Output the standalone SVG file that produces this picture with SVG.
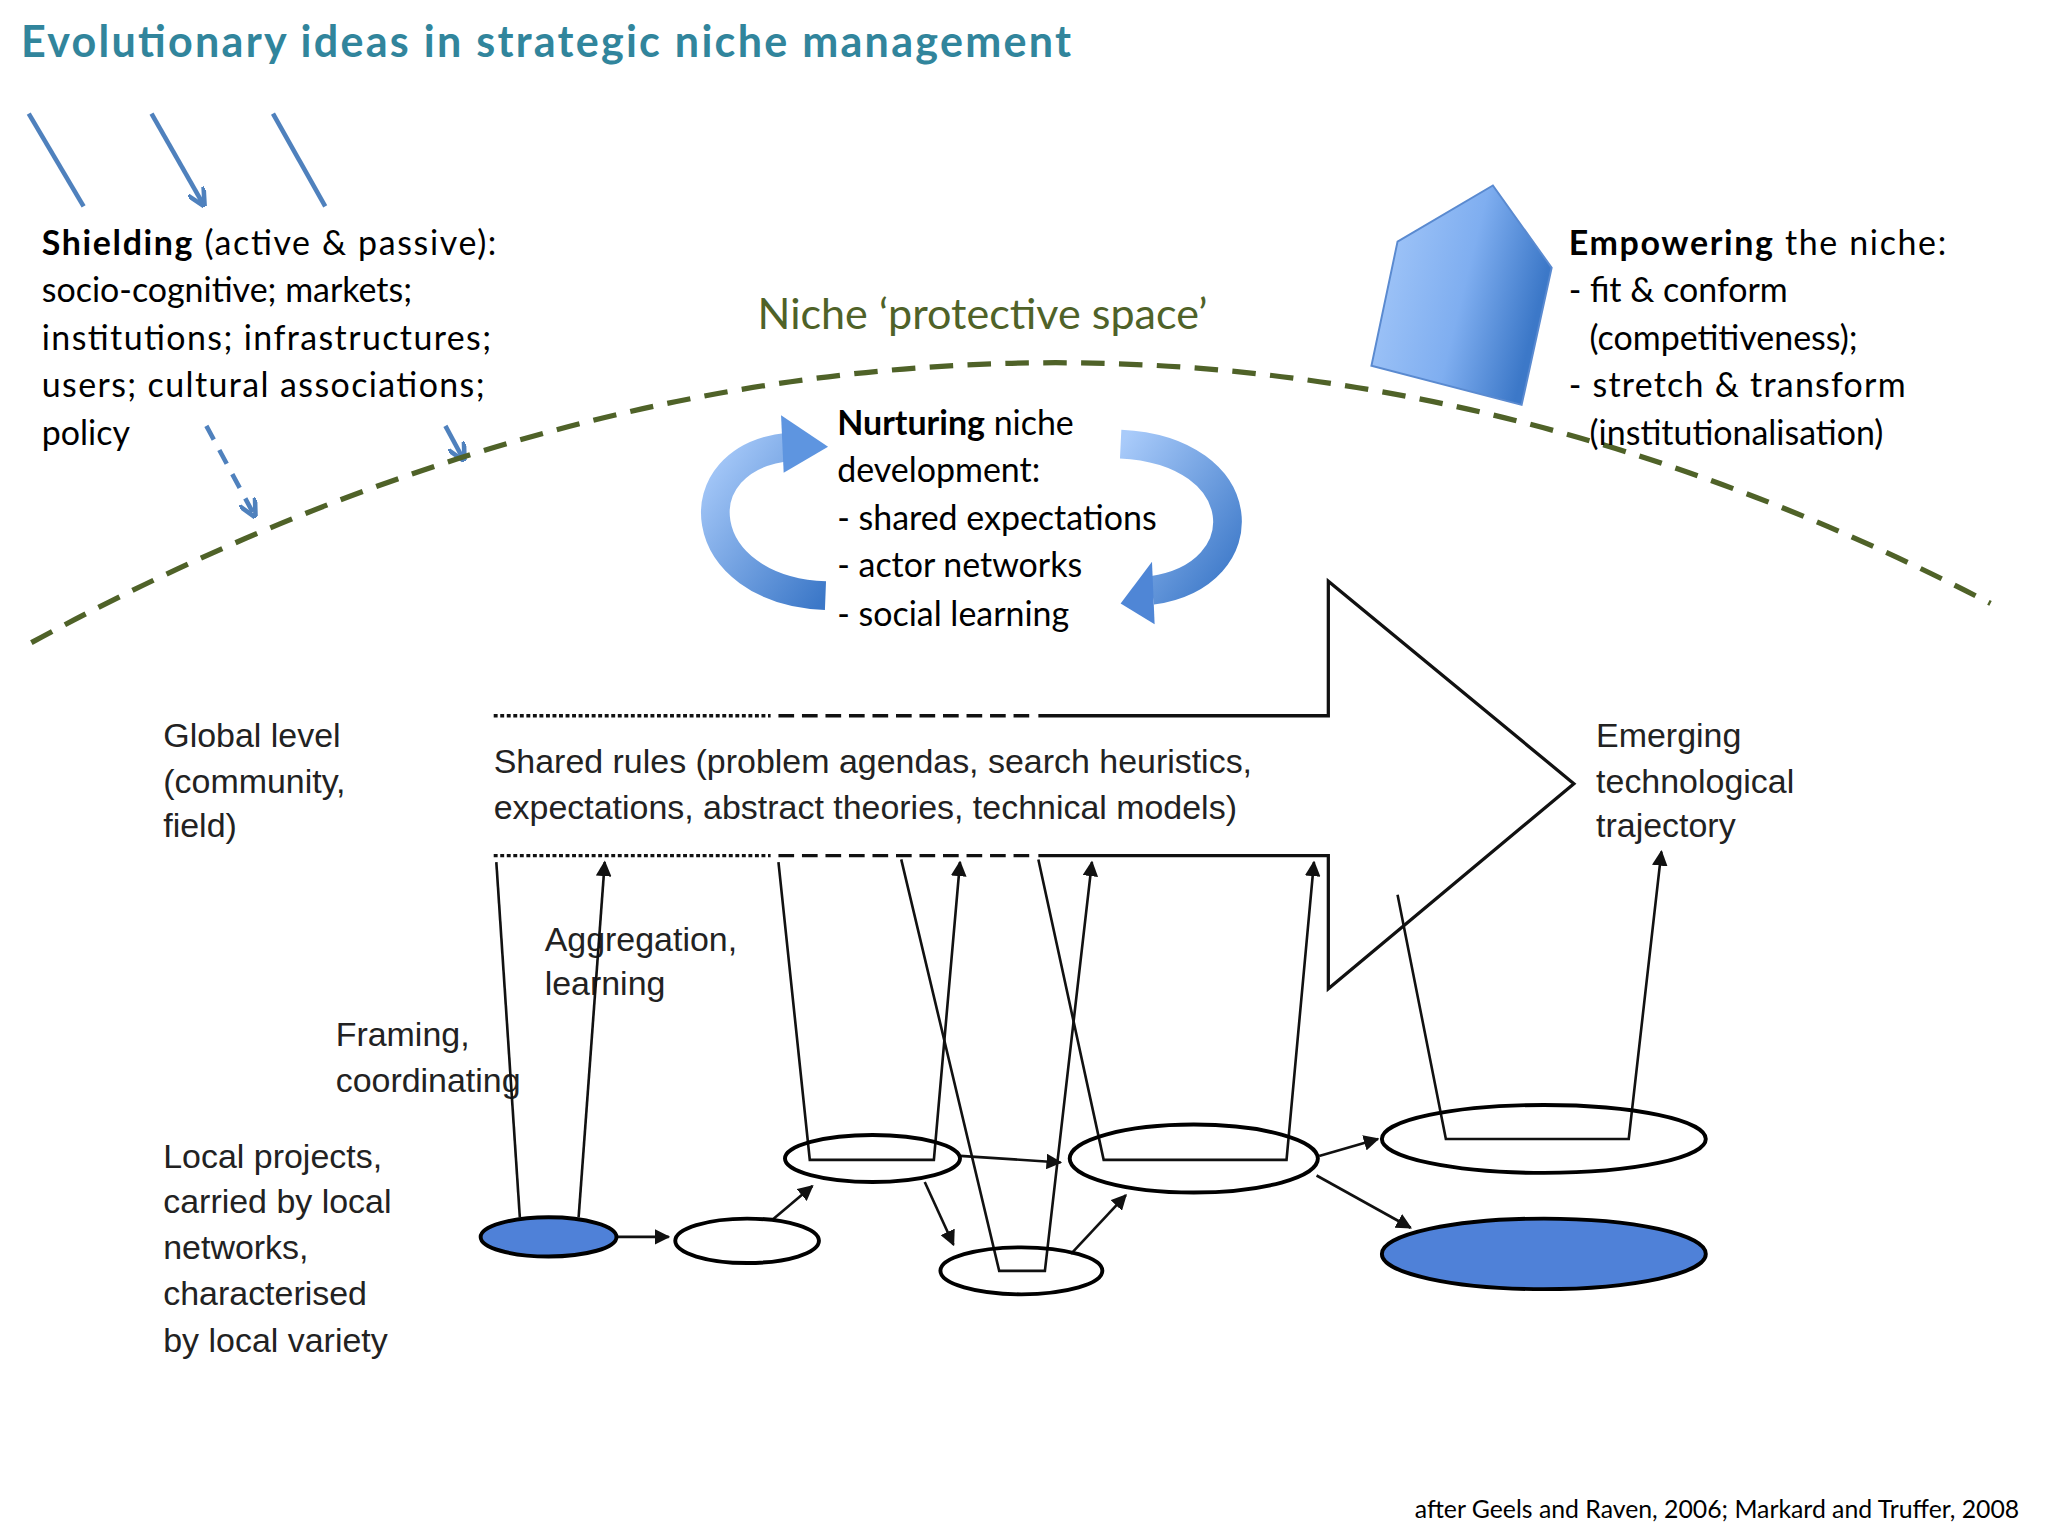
<svg xmlns="http://www.w3.org/2000/svg" width="2048" height="1536" viewBox="0 0 2048 1536">
<defs>
<style>
.t{font-family:Lato,"Open Sans",sans-serif;font-size:26px;fill:#000}
.h{font-family:"Liberation Sans",Arial,sans-serif;font-size:26px;fill:#222}
.ln{stroke:#111;stroke-width:2;fill:none}
.bl{stroke:#4F81BD;stroke-width:3.5;fill:none}
.ell{fill:#fff;stroke:#000;stroke-width:3}
.ef{fill:#4F81D8;stroke:#000;stroke-width:3}
</style>
<marker id="ah" viewBox="0 0 10 10" refX="9" refY="5" markerWidth="6" markerHeight="6" orient="auto"><path d="M0,0L10,5L0,10z" fill="#111"/></marker>
<marker id="ab" viewBox="0 0 10 10" refX="9" refY="5" markerWidth="4" markerHeight="4" orient="auto"><path d="M0,0L10,5L0,10" fill="none" stroke="#4F81BD" stroke-width="2.5"/></marker>
<linearGradient id="pg" x1="0" y1="0" x2="1" y2="0.3"><stop offset="0" stop-color="#A9CBFA"/><stop offset="0.6" stop-color="#7FAEF0"/><stop offset="1" stop-color="#3C78C8"/></linearGradient>
<linearGradient id="cg" x1="0" y1="0" x2="1" y2="1"><stop offset="0" stop-color="#A9CBFA"/><stop offset="1" stop-color="#3C78C8"/></linearGradient>
</defs>
<rect width="2048" height="1536" fill="#fff"/>
<g transform="scale(1.30612)">
<g id="title"><text x="16" y="44" font-family="Lato,'Open Sans',sans-serif" font-weight="bold" font-size="33" fill="#31859C" textLength="804">Evolutionary ideas in strategic niche management</text></g>
<g id="pressure">
<line class="bl" x1="22" y1="87" x2="64" y2="158"/>
<line class="bl" x1="116" y1="87" x2="156" y2="157" marker-end="url(#ab)"/>
<line class="bl" x1="209" y1="87" x2="249" y2="158"/>
</g>
<g id="shielding">
<text class="t" x="32" y="195" textLength="348"><tspan font-weight="bold">Shielding</tspan> (active &amp; passive):</text>
<text class="t" x="32" y="231">socio-cognitive; markets;</text>
<text class="t" x="32" y="268" textLength="344">institutions; infrastructures;</text>
<text class="t" x="32" y="304" textLength="339">users; cultural associations;</text>
<text class="t" x="32" y="341">policy</text>
<line class="bl" x1="158" y1="326" x2="195" y2="395" stroke-dasharray="12 9" marker-end="url(#ab)"/>
<line class="bl" x1="341" y1="326" x2="355" y2="352" marker-end="url(#ab)"/>
</g>
<g id="niche">
<path d="M24,492 Q786,79 1524,462" fill="none" stroke="#4F6228" stroke-width="4" stroke-dasharray="18 11"/>
<text x="580" y="252" font-family="Lato,'Open Sans',sans-serif" font-size="33" fill="#4F6228">Niche ‘protective space’</text>
</g>
<g id="empowering">
<polygon points="1070,185 1143,142 1188,205 1165,310 1050,280" fill="url(#pg)" stroke="#5A8AD0" stroke-width="1.5"/>
<text class="t" x="1201" y="195" textLength="289"><tspan font-weight="bold">Empowering</tspan> the niche:</text>
<text class="t" x="1201" y="231">- fit &amp; conform</text>
<text class="t" x="1217" y="268">(competitiveness);</text>
<text class="t" x="1201" y="304" textLength="258">- stretch &amp; transform</text>
<text class="t" x="1217" y="341">(institutionalisation)</text>
</g>
<g id="nurturing">
<path d="M632,456 C530,452 520,350 605,342" fill="none" stroke="url(#cg)" stroke-width="22"/>
<polygon points="598,318 634,342 600,362" fill="#5E95E0"/>
<path d="M858,340 C960,345 965,440 882,452" fill="none" stroke="url(#cg)" stroke-width="22"/>
<polygon points="882,430 858,462 884,478" fill="#4F86D6"/>
<text class="t" x="641" y="333"><tspan font-weight="bold">Nurturing</tspan> niche</text>
<text class="t" x="641" y="369">development:</text>
<text class="t" x="641" y="406">- shared expectations</text>
<text class="t" x="641" y="442">- actor networks</text>
<text class="t" x="641" y="479">- social learning</text>
</g>
<g id="bigarrow">
<path d="M795,548 L1017,548 L1017,445 L1205,600 L1017,757 L1017,655 L795,655" fill="none" stroke="#111" stroke-width="2.5"/>
<line x1="378" y1="548" x2="590" y2="548" stroke="#111" stroke-width="2.5" stroke-dasharray="3 2"/>
<line x1="596" y1="548" x2="790" y2="548" stroke="#111" stroke-width="2.5" stroke-dasharray="12 6"/>
<line x1="378" y1="655" x2="590" y2="655" stroke="#111" stroke-width="2.5" stroke-dasharray="3 2"/>
<line x1="596" y1="655" x2="790" y2="655" stroke="#111" stroke-width="2.5" stroke-dasharray="12 6"/>
<text class="h" x="378" y="592">Shared rules (problem agendas, search heuristics,</text>
<text class="h" x="378" y="627">expectations, abstract theories, technical models)</text>
</g>
<g id="labels">
<text class="h" x="125" y="572">Global level</text>
<text class="h" x="125" y="607">(community,</text>
<text class="h" x="125" y="641">field)</text>
<text class="h" x="1222" y="572">Emerging</text>
<text class="h" x="1222" y="607">technological</text>
<text class="h" x="1222" y="641">trajectory</text>
<text class="h" x="417" y="728">Aggregation,</text>
<text class="h" x="417" y="762">learning</text>
<text class="h" x="257" y="801">Framing,</text>
<text class="h" x="257" y="836">coordinating</text>
<text class="h" x="125" y="894">Local projects,</text>
<text class="h" x="125" y="929">carried by local</text>
<text class="h" x="125" y="964">networks,</text>
<text class="h" x="125" y="999">characterised</text>
<text class="h" x="125" y="1035">by local variety</text>
</g>
<g id="connectors">
<line class="ln" x1="380" y1="660" x2="398" y2="932"/>
<line class="ln" x1="443" y1="932" x2="463" y2="660" marker-end="url(#ah)"/>
<polyline class="ln" points="596,660 620,888 715,888 735,660" marker-end="url(#ah)"/>
<polyline class="ln" points="690,658 765,973 800,973 836,660" marker-end="url(#ah)"/>
<polyline class="ln" points="795,658 845,888 985,888 1006,660" marker-end="url(#ah)"/>
<polyline class="ln" points="1070,685 1107,872 1247,872 1272,652" marker-end="url(#ah)"/>
<line class="ln" x1="473" y1="947" x2="512" y2="947" marker-end="url(#ah)"/>
<line class="ln" x1="590" y1="935" x2="622" y2="908" marker-end="url(#ah)"/>
<line class="ln" x1="735" y1="885" x2="812" y2="890" marker-end="url(#ah)"/>
<line class="ln" x1="708" y1="905" x2="730" y2="953" marker-end="url(#ah)"/>
<line class="ln" x1="820" y1="960" x2="862" y2="915" marker-end="url(#ah)"/>
<line class="ln" x1="1010" y1="885" x2="1055" y2="872" marker-end="url(#ah)"/>
<line class="ln" x1="1008" y1="900" x2="1080" y2="940" marker-end="url(#ah)"/>
</g>
<g id="projects">
<ellipse class="ef" cx="420" cy="947" rx="52" ry="15"/>
<ellipse class="ell" cx="572" cy="950" rx="55" ry="17"/>
<ellipse class="ell" cx="668" cy="887" rx="67" ry="18" fill="none" style="fill:none"/>
<ellipse class="ell" cx="782" cy="973" rx="62" ry="18" style="fill:none"/>
<ellipse class="ell" cx="914" cy="887" rx="95" ry="26" style="fill:none"/>
<ellipse class="ell" cx="1182" cy="872" rx="124" ry="26" style="fill:none"/>
<ellipse class="ef" cx="1182" cy="960" rx="124" ry="27"/>
</g>
<g id="footer"><text x="1546" y="1162" text-anchor="end" font-family="Lato,'Open Sans',sans-serif" font-size="19" fill="#000">after Geels and Raven, 2006; Markard and Truffer, 2008</text></g>
</g>
</svg>
